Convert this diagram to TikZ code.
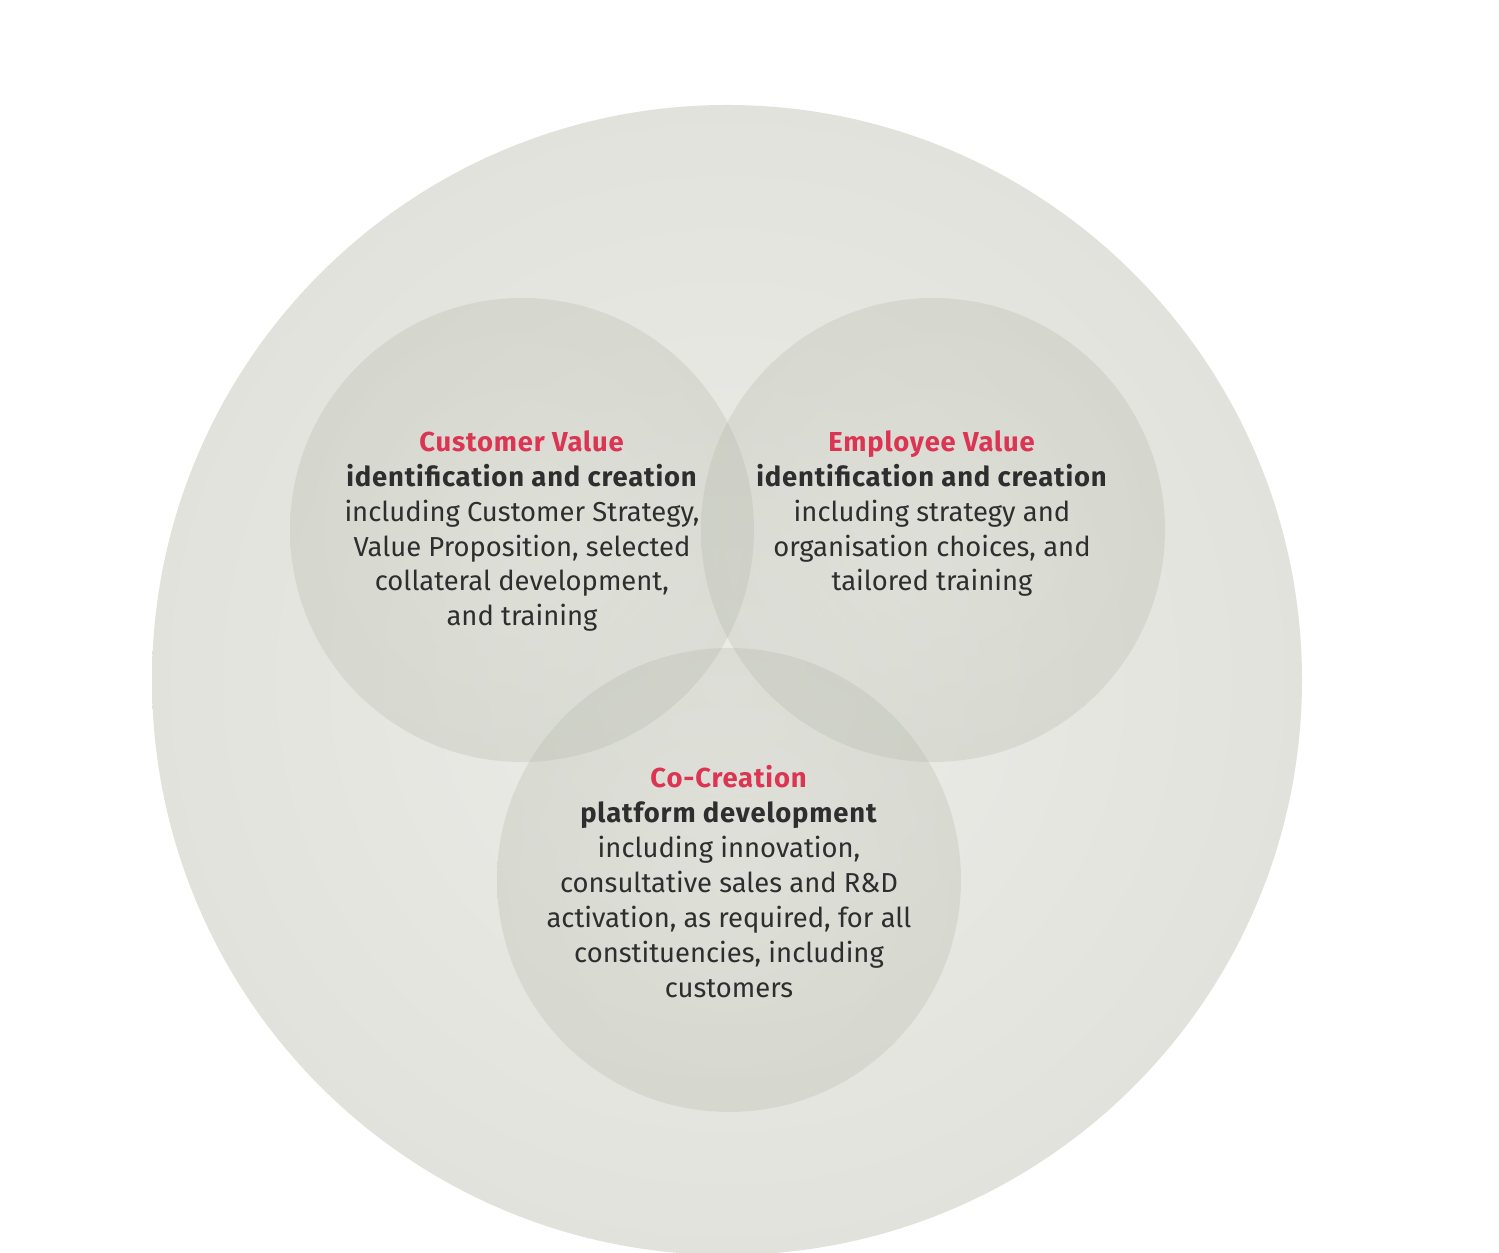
\documentclass[tikz,border=0pt]{standalone}
\usepackage{fontspec}
\setmainfont{Fira Sans}[BoldFeatures={LetterSpace=3}]
\definecolor{outergray}{HTML}{D1D3CA}
\definecolor{midgray}{HTML}{DFE0D9}
\definecolor{innergray}{HTML}{ECEDE8}
\definecolor{petallight}{HTML}{C2C5B8}
\definecolor{petaldark}{HTML}{999C8C}
\definecolor{titlered}{HTML}{DC3553}
\definecolor{bodytext}{HTML}{2E2E2E}
\pgfdeclareradialshading{wholeshade}{\pgfpoint{0bp}{0bp}}{%
  color(0bp)=(innergray); color(30bp)=(midgray); color(50bp)=(outergray)}
\pgfdeclareradialshading{petalshade}{\pgfpoint{0bp}{0bp}}{%
  color(0bp)=(petallight); color(50bp)=(petaldark)}
\tikzset{
  petal/.style={shading=petalshade, opacity=.25},
  label/.style={anchor=north, align=center, inner sep=0pt, text=bodytext,
    font=\fontsize{15.6}{19.9}\selectfont},
}
\newcommand{\ttl}[1]{\textcolor{titlered}{\textbf{#1}}}
\begin{document}
\begin{tikzpicture}[x=0.02cm,y=0.02cm]
\useasboundingbox (0,0) rectangle (1499,1253);
% Draw big circle
\coordinate (whole) at (727,573);
\shade[shading=wholeshade] (whole) circle[radius=575];
% Three value circles
\coordinate (customer) at (522,723);
\coordinate (employee) at (933,723);
\coordinate (cocreation) at (729,373);
\shade[petal] (customer) circle[radius=232];
\shade[petal] (employee) circle[radius=232];
\shade[petal] (cocreation) circle[radius=232];
% Texts
\node[label] (customer-text) at (522,823) {\ttl{Customer Value}\\
  \textbf{identification and creation}\\
  including Customer Strategy,\\
  Value Proposition, selected\\
  collateral development,\\
  and training};
\node[label] (employee-text) at (932,823) {\ttl{Employee Value}\\
  \textbf{identification and creation}\\
  including strategy and\\
  organisation choices, and\\
  tailored training};
\node[label] (cocreation-text) at (729,488) {\ttl{Co-Creation}\\
  \textbf{platform development}\\
  including innovation,\\
  consultative sales and R\&D\\
  activation, as required, for all\\
  constituencies, including\\
  customers};
\end{tikzpicture}
\end{document}
